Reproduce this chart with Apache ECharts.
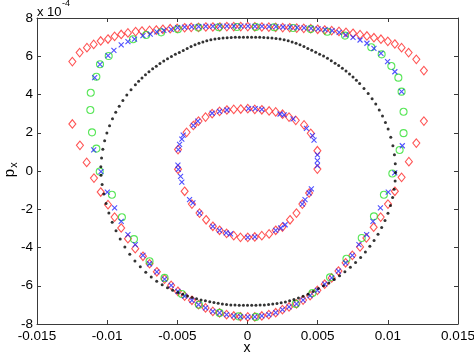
<!DOCTYPE html>
<html>
<head>
<meta charset="utf-8">
<script src="https://cdn.jsdelivr.net/npm/echarts@6.0.0/dist/echarts.min.js"></script>
<style>
  html, body { margin: 0; padding: 0; background: #fff; }
  #chart { width: 474px; height: 354px; }
</style>
</head>
<body>
<div id="chart"></div>
<script>
// x in units of 1e-3, p_x in units of 1e-4 (factor shown top left)
var xTicks = [-15, -10, -5, 0, 5, 10, 15];
var pTicks = [-8, -6, -4, -2, 0, 2, 4, 6, 8];

// red diamonds, outer loop
var redOuter = [
  [0.02,7.55],[-0.48,7.55],[-0.98,7.55],[-1.47,7.55],[-1.97,7.53],[-2.47,7.53],[-2.97,7.53],[-3.49,7.51],
  [-4.01,7.51],[-4.48,7.49],[-5.01,7.46],[-5.51,7.44],[-6.03,7.41],[-6.5,7.37],[-6.98,7.35],[-7.52,7.32],
  [-7.97,7.29],[-8.52,7.22],[-9.0,7.14],[-9.47,7.04],[-9.94,6.9],[-10.46,6.8],[-10.96,6.62],[-11.44,6.45],
  [-11.96,6.19],[-12.48,5.72],[-12.48,2.46],[-11.94,1.34],[-11.46,0.45],[-10.94,-0.37],[-10.46,-1.1],
  [-9.94,-1.76],[-9.47,-2.41],[-9.0,-2.98],[-8.52,-3.54],[-8.0,-4.06],[-7.45,-4.46],[-6.98,-4.85],
  [-6.46,-5.27],[-5.91,-5.65],[-5.44,-5.98],[-4.96,-6.29],[-4.48,-6.54],[-3.96,-6.76],[-3.49,-6.99],
  [-2.99,-7.16],[-2.47,-7.34],[-1.99,-7.42],[-1.49,-7.51],[-0.98,-7.58],[-0.5,-7.62],[0.02,-7.63],
  [0.52,-7.63],[1.02,-7.58],[1.52,-7.51],[2.01,-7.41],[2.49,-7.25],[2.96,-7.11],[3.49,-6.95],[3.96,-6.75],
  [4.46,-6.52],[4.98,-6.24],[5.5,-5.92],[6.0,-5.59],[6.48,-5.23],[6.99,-4.8],[7.47,-4.41],[8.02,-3.97],
  [8.47,-3.5],[8.99,-2.94],[9.49,-2.41],[10.01,-1.73],[10.5,-1.06],[10.98,-0.33],[11.5,0.49],[12.03,1.46],
  [12.57,2.61],[12.57,5.25],[12.03,5.84],[11.48,6.19],[10.98,6.45],[10.5,6.64],[10.0,6.78],[9.51,6.89],
  [9.01,6.97],[8.51,7.06],[8.02,7.13],[7.52,7.2],[7.02,7.25],[6.52,7.3],[6.0,7.34],[5.5,7.37],[5.0,7.41],
  [4.51,7.44],[4.01,7.46],[3.51,7.47],[3.01,7.49],[2.51,7.5],[2.01,7.51],[1.52,7.52],[1.02,7.53],[0.52,7.54]
];
// red diamonds, inner loop
var redInner = [
  [-4.95,1.12],[-4.95,0.09],[-4.48,-1.06],[-4.34,2.02],[-3.86,2.38],[-3.49,2.61],[-2.99,2.82],[-2.52,3.0],
  [-1.99,3.12],[-1.47,3.19],[-0.98,3.22],[-0.48,3.24],[0.02,3.26],[0.52,3.22],[1.02,3.2],[1.54,3.14],
  [2.01,3.09],[2.5,2.97],[2.96,2.82],[3.44,2.65],[4.03,2.41],[4.51,1.97],[4.98,1.06],[4.98,0.1],
  [4.39,-1.15],[3.91,-1.73],[3.49,-2.2],[3.03,-2.55],[2.49,-2.93],[2.01,-3.1],[1.54,-3.29],[1.02,-3.38],
  [0.52,-3.45],[0.02,-3.47],[-0.5,-3.47],[-0.98,-3.38],[-1.49,-3.26],[-1.99,-3.1],[-2.47,-2.89],
  [-2.95,-2.55],[-3.42,-2.2],[-3.96,-1.73]
];
// green circles
var greenOuter = [
  [-10.77,4.93],[-10.51,5.58],[-9.89,6.01],[-8.16,6.89],[-7.22,7.11],[-6.15,7.25],[-4.96,7.41],[-3.5,7.5],
  [-2.05,7.52],[-0.75,7.53],[0.59,7.53],[1.9,7.52],[3.25,7.48],[4.5,7.42],[5.69,7.28],[6.95,7.08],
  [8.82,6.47],[9.56,6.1],[10.25,5.49],[10.75,4.88],[10.98,4.15],[11.12,3.1],[11.12,1.98],[10.84,1.1],
  [10.32,-0.13],[9.72,-1.24],[9.01,-2.37],[8.14,-3.5],[7.05,-4.59],[5.88,-5.56],[4.63,-6.38],[3.44,-6.95],
  [0.59,-7.63],[-0.64,-7.6],[-1.99,-7.42],[-3.46,-6.99],[-4.68,-6.43],[-5.91,-5.59],[-6.98,-4.72],
  [-8.09,-3.56],[-8.95,-2.42],[-9.66,-1.24],[-10.53,-0.03],[-10.77,1.17],[-11.08,2.02],[-11.2,3.19],
  [-11.17,4.09]
];
// blue crosses, outer loop
var blueOuter = [
  [-10.89,4.88],[-10.51,5.58],[-9.94,6.03],[-9.52,6.31],[-9.0,6.59],[-8.52,6.76],[-8.05,6.9],[-7.45,7.08],
  [-6.93,7.16],[-6.46,7.27],[-5.96,7.35],[-5.44,7.41],[-4.98,7.5],[-4.48,7.52],[-3.98,7.54],[-3.48,7.55],
  [-2.97,7.56],[-2.47,7.56],[-1.97,7.57],[-1.47,7.57],[-0.97,7.57],[-0.47,7.57],[0.03,7.57],[0.53,7.56],
  [1.03,7.56],[1.53,7.55],[2.03,7.55],[2.53,7.53],[3.03,7.52],[3.53,7.5],[4.03,7.48],[4.53,7.46],
  [5.03,7.43],[5.53,7.39],[6.03,7.34],[6.53,7.25],[7.0,7.12],[7.52,6.99],[8.02,6.85],[8.51,6.68],
  [9.01,6.41],[9.51,6.15],[9.98,5.72],[10.5,5.19],[10.98,4.15],[11.03,1.32],[10.49,-0.1],[10.03,-1.1],
  [9.47,-1.93],[8.94,-2.63],[8.49,-3.33],[7.94,-3.85],[7.47,-4.41],[6.99,-4.8],[6.48,-5.23],[6.0,-5.59],
  [5.5,-5.92],[4.98,-6.24],[4.46,-6.52],[3.96,-6.75],[3.49,-6.95],[2.96,-7.11],[2.49,-7.25],[2.01,-7.41],
  [1.52,-7.51],[1.02,-7.58],[0.52,-7.63],[0.02,-7.63],[-0.5,-7.62],[-0.98,-7.58],[-1.49,-7.51],
  [-1.99,-7.42],[-2.47,-7.34],[-2.99,-7.16],[-3.49,-6.99],[-3.96,-6.76],[-4.48,-6.54],[-4.96,-6.29],
  [-5.44,-5.98],[-5.91,-5.65],[-6.46,-5.27],[-6.98,-4.85],[-7.45,-4.41],[-8.0,-3.85],[-8.52,-3.33],
  [-9.0,-2.63],[-9.47,-1.93],[-9.99,-1.1],[-10.44,-0.03],[-10.96,1.1]
];
// blue crosses, inner loop
var blueInner = [
  [-4.93,1.12],[-4.84,1.39],[-4.68,1.67],[-4.58,1.88],[-4.96,0.31],[-4.93,0.09],[-3.86,2.38],[-3.54,2.61],
  [-2.52,3.02],[-1.99,3.12],[-1.47,3.19],[0.07,3.26],[0.55,3.26],[1.02,3.22],[2.32,2.98],[2.61,2.93],
  [3.25,2.72],[4.2,2.23],[4.63,1.85],[4.74,1.62],[4.98,0.84],[4.98,0.54],[4.98,0.28],[-4.77,-0.28],
  [-4.68,-0.58],[-4.13,-1.5],[-3.89,-1.67],[-3.42,-2.2],[-2.47,-2.89],[-1.99,-3.1],[-1.52,-3.24],
  [-1.21,-3.29],[0.02,-3.47],[0.52,-3.45],[2.01,-3.1],[2.37,-2.98],[2.68,-2.81],[3.91,-1.73],[4.1,-1.5],
  [4.39,-1.15],[4.55,-0.94]
];
// black dots
var blackLoop = [
  [0,7.0],[-0.29,7.0],[-0.58,7.0],[-0.87,6.99],[-1.16,6.98],[-1.45,6.97],[-1.74,6.95],[-2.03,6.93],
  [-2.32,6.9],[-2.61,6.86],[-2.9,6.81],[-3.18,6.75],[-3.46,6.68],[-3.74,6.6],[-4.02,6.51],[-4.3,6.41],
  [-4.58,6.3],[-4.86,6.2],[-5.14,6.1],[-5.42,5.99],[-5.7,5.87],[-5.97,5.75],[-6.24,5.62],[-6.5,5.48],
  [-6.76,5.34],[-7.02,5.19],[-7.27,5.03],[-7.52,4.86],[-7.76,4.69],[-7.99,4.51],[-8.3,4.25],[-8.6,3.98],
  [-8.88,3.69],[-9.14,3.39],[-9.39,3.07],[-9.62,2.73],[-9.83,2.37],[-10.02,1.99],[-10.18,1.58],
  [-10.31,1.14],[-10.4,0.68],[-10.45,0.22],
  [-10.44,-0.22],[-10.36,-0.7],[-10.24,-1.2],[-10.08,-1.7],[-9.88,-2.2],[-9.64,-2.68],[-9.37,-3.13],
  [-9.07,-3.56],[-8.74,-3.97],[-8.39,-4.35],[-8.02,-4.7],[-7.64,-5.01],[-7.25,-5.29],[-6.86,-5.54],
  [-6.47,-5.76],[-6.08,-5.95],[-5.7,-6.11],[-5.33,-6.24],[-4.97,-6.35],[-4.62,-6.45],[-4.28,-6.53],
  [-3.95,-6.61],[-3.63,-6.68],[-3.31,-6.74],[-3.0,-6.79],[-2.69,-6.84],[-2.39,-6.88],[-2.09,-6.92],
  [-1.79,-6.95],[-1.49,-6.98],[-1.19,-7.0],[-0.89,-7.01],[-0.59,-7.02],[-0.29,-7.02],[0.0,-7.02],
  [0.3,-7.02],[0.6,-7.02],[0.9,-7.01],[1.2,-7.0],[1.5,-6.98],[1.8,-6.96],[2.1,-6.93],[2.4,-6.89],
  [2.7,-6.85],[3.0,-6.79],[3.31,-6.72],[3.63,-6.64],[3.96,-6.55],[4.31,-6.44],[4.67,-6.3],[5.04,-6.15],
  [5.42,-6.0],[5.8,-5.85],[6.18,-5.67],[6.56,-5.48],[6.94,-5.27],[7.33,-5.03],[7.7,-4.78],[8.06,-4.52],
  [8.4,-4.23],[8.72,-3.94],[9.02,-3.63],[9.3,-3.31],[9.56,-2.96],[9.8,-2.59],[10.01,-2.21],[10.19,-1.81],
  [10.34,-1.39],[10.45,-0.96],[10.52,-0.52],[10.55,-0.08],
  [10.53,0.38],[10.47,0.85],[10.36,1.32],[10.21,1.77],[10.02,2.19],[9.83,2.54],[9.62,2.87],[9.39,3.19],
  [9.14,3.5],[8.88,3.78],[8.6,4.05],[8.3,4.32],[7.99,4.57],[7.76,4.74],[7.52,4.91],[7.27,5.07],
  [7.02,5.23],[6.76,5.37],[6.5,5.51],[6.24,5.64],[5.97,5.77],[5.7,5.89],[5.42,6.01],[5.14,6.11],
  [4.86,6.21],[4.58,6.31],[4.3,6.41],[4.02,6.51],[3.74,6.6],[3.46,6.68],[3.18,6.75],[2.9,6.81],
  [2.61,6.86],[2.32,6.9],[2.03,6.93],[1.74,6.95],[1.45,6.97],[1.16,6.98],[0.87,6.99],[0.58,7.0],[0.29,7.0]
];

var chart = echarts.init(document.getElementById('chart'));
var axisColor = '#3a3a3a';
var font = 'Liberation Sans, Arial, sans-serif';

function xAxisOf(pos, showLabel) {
  return {
    type: 'value', position: pos,
    min: xTicks[0], max: xTicks[xTicks.length - 1], interval: 5,
    axisLine: { show: true, onZero: false, lineStyle: { color: axisColor, width: 1 } },
    axisTick: { show: true, inside: true, length: 4, lineStyle: { color: axisColor } },
    splitLine: { show: false },
    axisLabel: {
      show: showLabel, color: '#000', fontSize: 13.5, fontFamily: font, margin: 5,
      showMinLabel: true, showMaxLabel: true,
      formatter: function (v) { return String(+(v / 1000).toFixed(3)); }
    }
  };
}
function yAxisOf(pos, showLabel) {
  return {
    type: 'value', position: pos,
    min: pTicks[0], max: pTicks[pTicks.length - 1], interval: 2,
    axisLine: { show: true, onZero: false, lineStyle: { color: axisColor, width: 1 } },
    axisTick: { show: true, inside: true, length: 4, lineStyle: { color: axisColor } },
    splitLine: { show: false },
    axisLabel: {
      show: showLabel, color: '#000', fontSize: 13.5, fontFamily: font, margin: 4,
      showMinLabel: true, showMaxLabel: true
    }
  };
}

var option = {
  animation: false,
  backgroundColor: '#fff',
  grid: { left: 37, right: 16, top: 18, bottom: 30, containLabel: false, outerBoundsMode: 'none' },
  xAxis: [xAxisOf('bottom', true), xAxisOf('top', false)],
  yAxis: [yAxisOf('left', true), yAxisOf('right', false)],
  series: [
    {
      type: 'scatter', name: 'red',
      data: redOuter.concat(redInner),
      symbol: 'diamond', symbolSize: [7, 8.5],
      itemStyle: { color: 'rgba(0,0,0,0)', borderColor: '#ff2a2a', borderWidth: 1.1 }
    },
    {
      type: 'scatter', name: 'green',
      data: greenOuter,
      symbol: 'circle', symbolSize: 7,
      itemStyle: { color: 'rgba(0,0,0,0)', borderColor: '#2ee02e', borderWidth: 1.1 }
    },
    {
      type: 'scatter', name: 'blue',
      data: blueOuter.concat(blueInner),
      symbol: 'path://M0 0L10 10M10 0L0 10', symbolSize: 5,
      itemStyle: { color: 'rgba(0,0,0,0)', borderColor: '#2424ff', borderWidth: 1.1 }
    },
    {
      type: 'scatter', name: 'black',
      data: blackLoop,
      symbol: 'circle', symbolSize: 3,
      itemStyle: { color: '#000' }
    }
  ],
  graphic: [
    { type: 'text', x: 247, y: 348, style: { text: 'x', fontSize: 14, fontFamily: font, fill: '#000', align: 'center', verticalAlign: 'middle' } },
    { type: 'text', x: 10, y: 173, rotation: Math.PI / 2, style: { text: 'p', fontSize: 15, fontFamily: font, fill: '#000', align: 'center', verticalAlign: 'middle' } },
    { type: 'text', x: 14, y: 165, rotation: Math.PI / 2, style: { text: 'x', fontSize: 11, fontFamily: font, fill: '#000', align: 'center', verticalAlign: 'middle' } },
    { type: 'text', x: 37, y: 12, style: { text: 'x 10', fontSize: 13, fontFamily: font, fill: '#000', align: 'left', verticalAlign: 'middle' } },
    { type: 'text', x: 62, y: 4, style: { text: '-4', fontSize: 9, fontFamily: font, fill: '#000', align: 'left', verticalAlign: 'middle' } }
  ]
};
chart.setOption(option);
</script>
</body>
</html>
